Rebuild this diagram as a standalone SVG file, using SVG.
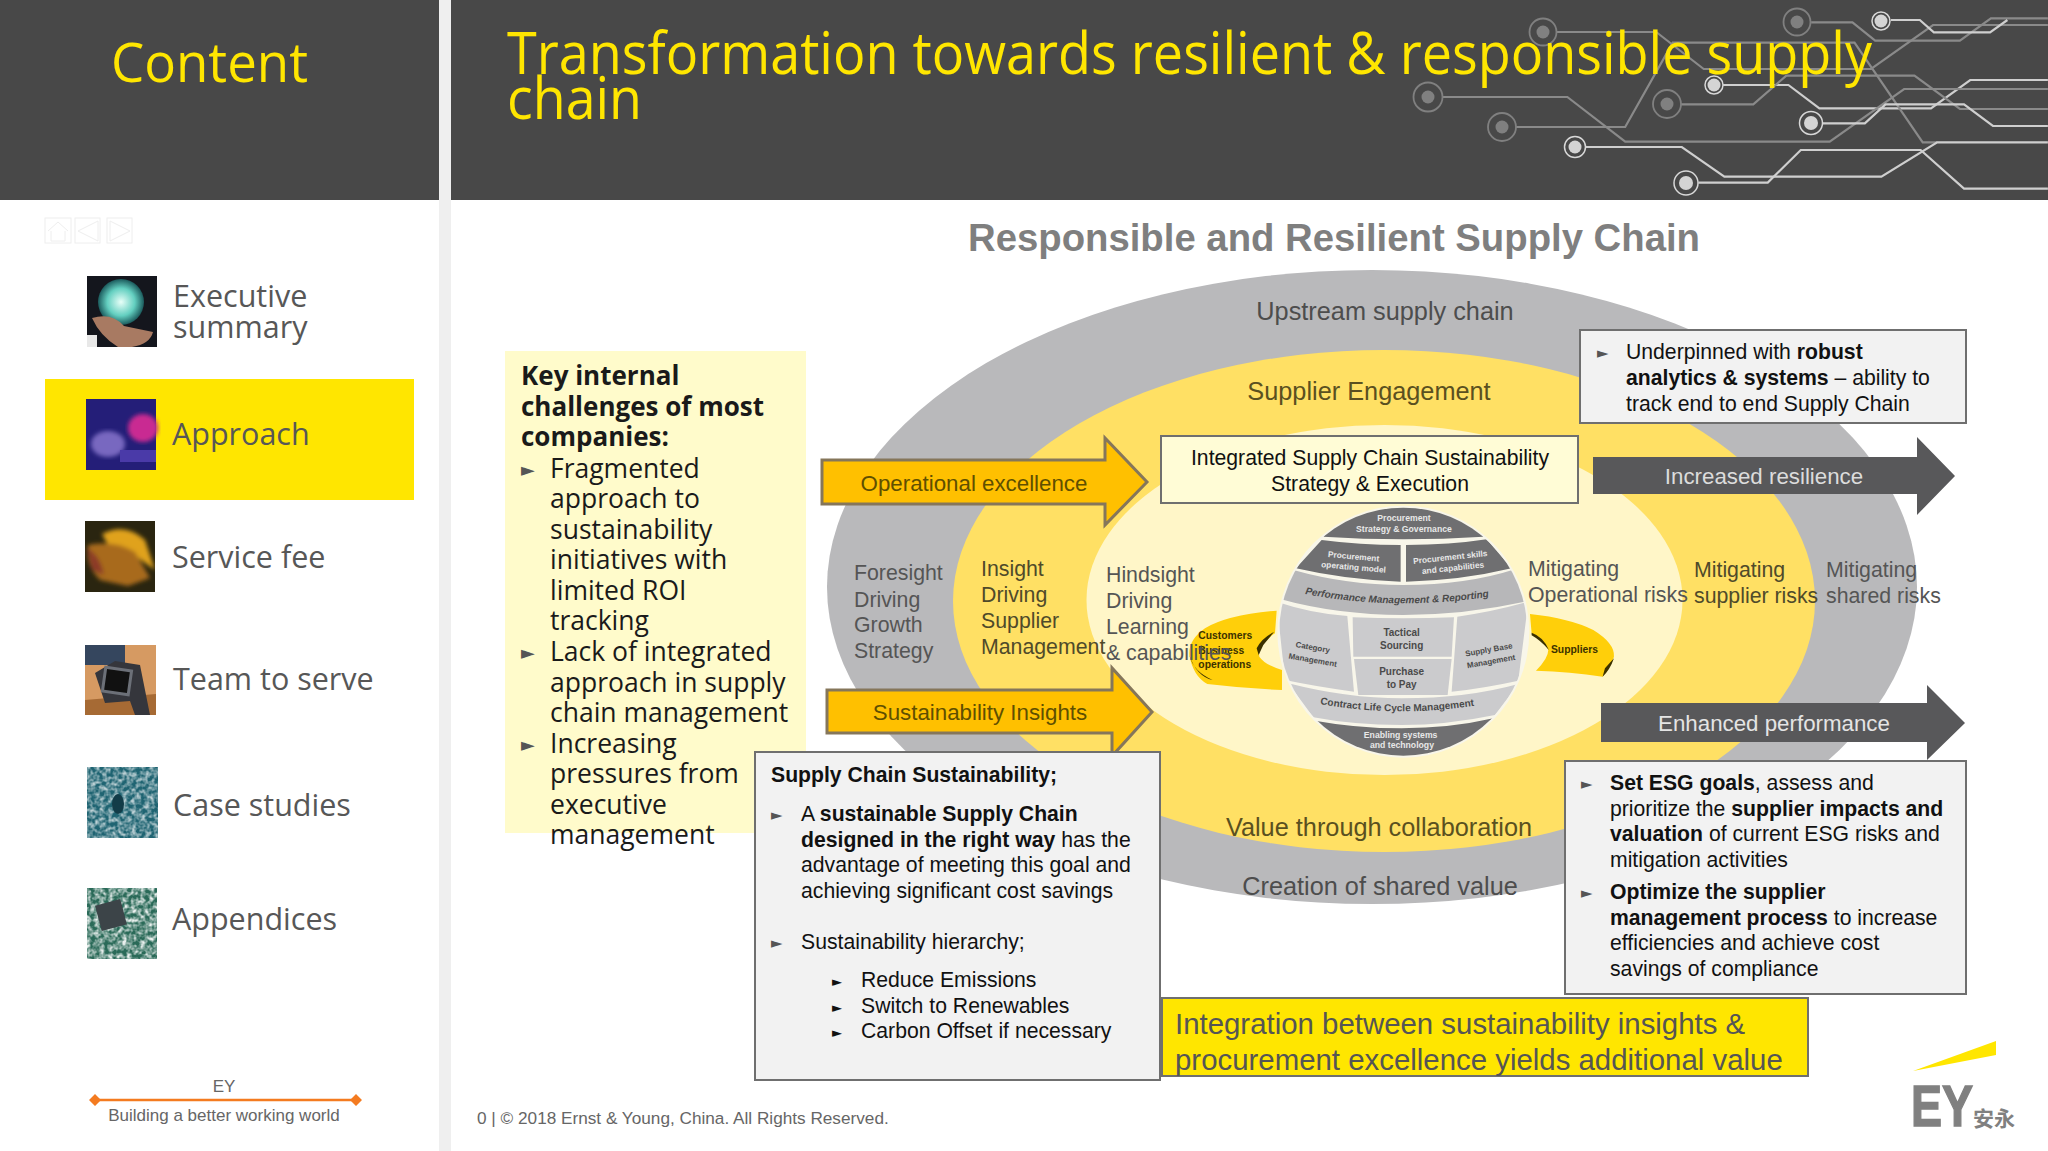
<svg xmlns="http://www.w3.org/2000/svg" width="2048" height="1151" viewBox="0 0 2048 1151">
<style>
text{font-family:"Liberation Sans",Arial,sans-serif}
.seg{font-family:"Open Sans","Noto Sans",sans-serif}
.menu{font-size:30.5px;fill:#575757}
.ttl{font-size:58px;fill:#FFE600}
.box{stroke:#6f6f6f;stroke-width:2}
.b{font-size:21.2px;fill:#111}
.bul{font-size:15px;fill:#555;font-family:"DejaVu Sans",sans-serif}
.bulk{font-size:13px;fill:#111;font-family:"DejaVu Sans",sans-serif}
.lbl{font-size:25.3px;fill:#4d4d4d}
.mid{font-size:21.3px;fill:#555}
.key{font-size:26.5px;fill:#1a1a1a}
.keybul{font-size:18px;fill:#555;font-family:"DejaVu Sans",sans-serif}
.c1{fill:none;stroke:#8a8a8a;stroke-width:2.2;vector-effect:non-scaling-stroke}
.c3{fill:none;stroke:#cfcfcf;stroke-width:2.2;vector-effect:non-scaling-stroke}
.dk{fill:#6f6f71}.md{fill:#b7b7b9}.lt{fill:#cbcbcd}
.gw{font-size:26px;fill:#e8e8e8;font-weight:bold;text-anchor:middle}
.gd{font-size:30px;fill:#4a4a4a;font-weight:bold;text-anchor:middle}
.sw{font-size:31px;font-weight:bold;fill:#3c3200}
.arrY{fill:#FFC000;stroke:#85765a;stroke-width:3}
.arrG{fill:#58585a}
.al{font-size:22.3px;text-anchor:middle}
</style>
<defs>
<filter id="noise" x="0" y="0" width="100%" height="100%"><feTurbulence type="fractalNoise" baseFrequency="0.22" numOctaves="2" seed="4"/><feColorMatrix values="0 0 0 0 1 0 0 0 0 1 0 0 0 0 1 2.2 0 0 0 -0.75"/></filter>
<filter id="soft"><feGaussianBlur stdDeviation="2"/></filter>
<clipPath id="globe"><circle cx="760" cy="455" r="372"/></clipPath>
<clipPath id="feeClip"><rect x="85" y="521" width="70" height="71"/></clipPath>
<radialGradient id="orb"><stop offset="0" stop-color="#e8fff8"/><stop offset=".6" stop-color="#63cfc0"/><stop offset="1" stop-color="#1b5a5c"/></radialGradient>
<path id="perfCurve" d="M465 342Q760 398 1065 342"/>
<path id="contractCurve" d="M510 672Q755 716 1005 672"/>
</defs>
<rect width="2048" height="1151" fill="#fff"/>

<g id="header">
<rect x="0" y="0" width="439" height="200" fill="#484848"/>
<rect x="439" y="0" width="12" height="1151" fill="#efefef"/>
<rect x="451" y="0" width="1597" height="200" fill="#484848"/>
<g id="circuit">
<g transform="translate(1400 0) scale(.4132 .3333)">
<path class="c1" d="M380 96H620L735 207H1140L1290 75H1568"/>
<path class="c1" d="M995 67H1095L1150 122H1355L1430 55H1568"/>
<path class="c3" d="M1188 60H1258L1292 97H1428L1470 60"/>
<path class="c3" d="M782 255H940L1015 325H1285L1380 240H1568"/>
<path class="c1" d="M680 313H855L935 227H1245L1355 327H1568"/>
<path class="c1" d="M103 291H405L545 425H1040L1220 267H1568"/>
<path class="c1" d="M280 381H545L660 128H1100L1265 427H1300"/>
<path class="c3" d="M450 441H682L785 530H1165L1300 427H1568"/>
<path class="c3" d="M722 548H890L970 450H1260L1365 566H1568"/>
<path class="c3" d="M1023 370H1125L1175 313H1365L1435 378H1568"/>
</g>
<g fill="#808080"><circle cx="1543" cy="32" r="6.5"/><circle cx="1797" cy="22" r="6.5"/><circle cx="1667" cy="104" r="6.5"/><circle cx="1428" cy="97" r="6.5"/><circle cx="1502" cy="127" r="6.5"/></g>
<g fill="none" stroke="#808080" stroke-width="1.8"><circle cx="1543" cy="32" r="13.5"/><circle cx="1797" cy="22" r="13.5"/><circle cx="1667" cy="104" r="14"/><circle cx="1428" cy="97" r="14.5"/><circle cx="1502" cy="127" r="14"/></g>
<g fill="#d4d4d4"><circle cx="1881" cy="21" r="6.5"/><circle cx="1714" cy="85" r="6.5"/><circle cx="1575" cy="147" r="6.5"/><circle cx="1686" cy="183" r="7"/><circle cx="1811" cy="123" r="7"/></g>
<g fill="none" stroke="#d8d8d8" stroke-width="1.5"><circle cx="1881" cy="21" r="9"/><circle cx="1714" cy="85" r="9"/><circle cx="1575" cy="147" r="10.5"/><circle cx="1686" cy="183" r="12"/><circle cx="1811" cy="123" r="11.5"/></g>
</g>
<text class="seg ttl" x="111" y="82" style="font-size:54px" textLength="197" lengthAdjust="spacingAndGlyphs">Content</text>
<text class="seg ttl" x="507" y="74" textLength="1365" lengthAdjust="spacingAndGlyphs">Transformation towards resilient &amp; responsible supply</text>
<text class="seg ttl" x="507" y="119" textLength="135" lengthAdjust="spacingAndGlyphs">chain</text>
</g>

<g id="sidebar">
<g id="nav" fill="none" stroke="#eeeeee" stroke-width="1">
<rect x="45" y="218" width="26" height="25"/><path d="M48 231L58 222L68 231M51 231V241H65V231"/>
<rect x="75" y="218" width="25" height="25"/><path d="M98 221L78 231L98 241Z"/>
<rect x="107" y="218" width="25" height="25"/><path d="M110 221L130 231L110 241Z"/>
</g>
<g id="menu-executive">
<rect x="87" y="276" width="70" height="71" fill="#14161d"/>
<rect x="87" y="335" width="10" height="12" fill="#e8e8e8"/>
<circle cx="121" cy="302" r="23" fill="url(#orb)"/>
<path d="M92 318Q112 312 124 326L153 332Q150 344 132 347H118Q100 336 92 318Z" fill="#a87a62"/>
<text class="seg menu" x="173" y="307">Executive</text>
<text class="seg menu" x="173" y="338">summary</text>
</g>
<g id="menu-approach">
<rect x="45" y="379" width="369" height="121" fill="#FFE600"/>
<rect x="86" y="399" width="70" height="71" fill="#241e78"/>
<ellipse cx="143" cy="428" rx="15" ry="14" fill="#c92a92" filter="url(#soft)"/>
<ellipse cx="108" cy="444" rx="17" ry="13" fill="#7868c0" filter="url(#soft)"/>
<rect x="120" y="450" width="36" height="12" fill="#4a3aa8"/>
<text class="seg menu" x="172" y="445">Approach</text>
</g>
<g id="menu-fee">
<rect x="85" y="521" width="70" height="71" fill="#2a2510"/>
<g clip-path="url(#feeClip)" filter="url(#soft)">
<path d="M102 534Q125 522 145 540L155 570L130 552L108 545Z" fill="#e0a21c"/>
<path d="M88 545Q115 540 135 552L150 578L128 586L100 580Q85 565 88 545Z" fill="#a86a1e"/>
<path d="M87 548Q100 555 104 575L92 570Z" fill="#8c3a26"/>
</g>
<text class="seg menu" x="172" y="568">Service fee</text>
</g>
<g id="menu-team">
<rect x="85" y="645" width="71" height="70" fill="#d69a62"/>
<rect x="85" y="645" width="40" height="20" fill="#35465e"/>
<path d="M85 700L156 694V715H85Z" fill="#a66a34"/>
<path d="M115 661L140 665L150 715H135L130 701L105 703L95 673Z" fill="#35363c"/>
<rect x="104" y="669" width="26" height="24" fill="#111" stroke="#6c7078" stroke-width="3" transform="rotate(8 117 681)"/>
<text class="seg menu" x="173" y="690">Team to serve</text>
</g>
<g id="menu-case">
<rect x="87" y="767" width="71" height="71" fill="#1f6472"/>
<rect x="87" y="767" width="71" height="71" filter="url(#noise)" opacity=".7"/>
<ellipse cx="118" cy="804" rx="6" ry="10" fill="#123c48"/>
<text class="seg menu" x="173" y="816">Case studies</text>
</g>
<g id="menu-appendices">
<rect x="87" y="888" width="70" height="71" fill="#2a6a58"/>
<rect x="87" y="888" width="70" height="71" filter="url(#noise)" opacity=".9"/>
<rect x="98" y="902" width="26" height="26" fill="#3c4448" transform="rotate(-15 111 915)"/>
<text class="seg menu" x="172" y="930">Appendices</text>
</g>
<g id="tagline">
<text x="224" y="1092" font-size="17" fill="#666" text-anchor="middle">EY</text>
<path d="M95 1100H356" stroke="#F47B20" stroke-width="2.5"/>
<path d="M95 1094l6 6l-6 6l-6-6ZM356 1094l6 6l-6 6l-6-6Z" fill="#F47B20"/>
<text x="224" y="1121" font-size="17" fill="#666" text-anchor="middle">Building a better working world</text>
</g>
</g>

<text id="diagram-title" x="1334" y="251" font-size="38.3" font-weight="bold" fill="#7f7f7f" text-anchor="middle">Responsible and Resilient Supply Chain</text>

<g id="rings">
<ellipse cx="1372" cy="587" rx="545" ry="317" fill="#B9B9BB"/>
<ellipse cx="1384" cy="601" rx="431" ry="251" fill="#FFE064"/>
<ellipse cx="1384.5" cy="600" rx="298" ry="175" fill="#FFF6C8"/>
<text class="lbl" x="1385" y="320" text-anchor="middle">Upstream supply chain</text>
<text class="lbl" x="1369" y="400" text-anchor="middle" style="fill:#5a5020">Supplier Engagement</text>
<text class="lbl" x="1379" y="836" text-anchor="middle" style="fill:#5a5020">Value through collaboration</text>
<text class="lbl" x="1380" y="895" text-anchor="middle">Creation of shared value</text>
</g>

<g id="globe-diagram" transform="translate(1150 480) scale(.3333)">
<g id="swooshes">
<path d="M380 392Q230 405 165 445Q115 480 118 525Q130 590 172 612Q280 625 396 630L396 570Q345 555 328 530Q322 495 375 460Z" fill="#FFCF0A"/>
<path d="M118 525Q130 575 188 600Q140 590 118 525ZM320 505Q335 475 372 456L340 495L326 525Z" fill="#3a3000"/>
<path d="M1140 402Q1260 415 1330 450Q1395 490 1392 530Q1380 565 1358 590Q1260 575 1158 572Q1195 535 1195 510Q1175 470 1145 460Z" fill="#FFCF0A"/>
<path d="M1145 458Q1180 470 1197 510Q1170 480 1145 466ZM1392 535Q1380 570 1358 590L1365 565Z" fill="#3a3000"/>
<text class="sw" x="145" y="476">Customers</text>
<text class="sw" x="145" y="521">Business</text>
<text class="sw" x="145" y="565">operations</text>
<text class="sw" x="1203" y="520">Suppliers</text>
</g>
<circle cx="760" cy="455" r="378" fill="#f8f6ea"/>
<g clip-path="url(#globe)">
<path class="dk" d="M520 170Q760 185 1000 170L900 50H620Z"/>
<path class="dk" d="M515 180Q630 195 752 195V305Q590 300 438 265Z"/>
<path class="dk" d="M768 195Q900 195 1010 178L1085 265Q930 302 768 305Z"/>
<path class="md" d="M430 270Q590 315 760 315Q950 315 1095 268L1140 362Q950 405 760 405Q560 405 385 356Z"/>
<path class="lt" d="M380 365Q480 400 592 408L612 635Q500 620 405 600Z"/>
<path class="lt" d="M608 412Q760 418 912 412L905 530H610Z"/>
<path class="lt" d="M612 537H905L893 645H625Z"/>
<path class="lt" d="M922 410Q1030 395 1135 365L1105 602Q1000 625 905 635Z"/>
<path class="lt" d="M415 610Q590 655 755 655Q950 655 1105 612L1035 705Q890 735 755 735Q610 735 490 712Z"/>
<path class="dk" d="M495 722Q620 745 755 745Q900 745 1030 715L960 840H560Z"/>
</g>
<text class="gw" x="762" y="124">Procurement</text>
<text class="gw" x="762" y="157">Strategy &amp; Governance</text>
<text class="gw" style="font-size:25px" x="610" y="238" transform="rotate(5 610 238)">Procurement</text>
<text class="gw" style="font-size:25px" x="610" y="270" transform="rotate(5 610 270)">operating model</text>
<text class="gw" style="font-size:25px" x="902" y="240" transform="rotate(-6 902 240)">Procurement skills</text>
<text class="gw" style="font-size:25px" x="910" y="272" transform="rotate(-6 910 272)">and capabilities</text>
<text class="gd" style="text-anchor:start"><textPath href="#perfCurve" font-style="italic">Performance Management &amp; Reporting</textPath></text>
<text class="gd" style="font-size:24px" x="487" y="510" transform="rotate(10 487 510)">Category</text>
<text class="gd" style="font-size:24px" x="487" y="548" transform="rotate(10 487 548)">Management</text>
<text class="gd" x="755" y="467">Tactical</text>
<text class="gd" x="755" y="506">Sourcing</text>
<text class="gd" x="755" y="585">Purchase</text>
<text class="gd" x="755" y="623">to Pay</text>
<text class="gd" style="font-size:24px" x="1018" y="517" transform="rotate(-10 1018 517)">Supply Base</text>
<text class="gd" style="font-size:24px" x="1025" y="552" transform="rotate(-10 1025 552)">Management</text>
<text class="gd" style="text-anchor:start"><textPath href="#contractCurve">Contract Life Cycle Management</textPath></text>
<text class="gw" x="752" y="773">Enabling systems</text>
<text class="gw" x="756" y="805">and technology</text>
</g>

<g id="ring-labels">
<text class="mid"><tspan x="854" y="580">Foresight</tspan><tspan x="854" y="607">Driving</tspan><tspan x="854" y="632">Growth</tspan><tspan x="854" y="658">Strategy</tspan></text>
<text class="mid" style="fill:#4f4a2a"><tspan x="981" y="576">Insight</tspan><tspan x="981" y="602">Driving</tspan><tspan x="981" y="628">Supplier</tspan><tspan x="981" y="654">Management</tspan></text>
<text class="mid"><tspan x="1106" y="582">Hindsight</tspan><tspan x="1106" y="608">Driving</tspan><tspan x="1106" y="634">Learning</tspan><tspan x="1106" y="660">&amp; capabilities</tspan></text>
<text class="mid"><tspan x="1528" y="576">Mitigating</tspan><tspan x="1528" y="602">Operational risks</tspan></text>
<text class="mid" style="fill:#4f4a2a"><tspan x="1694" y="577">Mitigating</tspan><tspan x="1694" y="603">supplier risks</tspan></text>
<text class="mid"><tspan x="1826" y="577">Mitigating</tspan><tspan x="1826" y="603">shared risks</tspan></text>
</g>

<g id="connectors">
<g id="arrow-operational"><path class="arrY" d="M822 460H1105V438L1147 482L1105 525V504H822Z"/><text class="al" x="974" y="491" fill="#5f4f00">Operational excellence</text></g>
<g id="arrow-sustainability"><path class="arrY" d="M827 690H1112V668L1152 712L1112 756V733H827Z"/><text class="al" x="980" y="720" fill="#5f4f00">Sustainability Insights</text></g>
<g id="arrow-resilience"><path class="arrG" d="M1593 457H1917V437L1955 476L1917 515V494H1593Z"/><text class="al" x="1764" y="484" fill="#dcdcdc">Increased resilience</text></g>
<g id="arrow-performance"><path class="arrG" d="M1601 703H1927V685L1965 723L1927 760V742H1601Z"/><text class="al" x="1774" y="731" fill="#e4e4e4">Enhanced performance</text></g>
</g>

<g id="key-challenges">
<rect x="505" y="351" width="301" height="482" fill="#FFFBCB"/>
<text class="seg key" font-weight="bold" style="font-size:26px"><tspan x="521" y="385">Key internal</tspan><tspan x="521" y="416">challenges of most</tspan><tspan x="521" y="446">companies:</tspan></text>
<text class="keybul"><tspan x="521" y="476">►</tspan><tspan x="521" y="659">►</tspan><tspan x="521" y="751">►</tspan></text>
<text class="seg key"><tspan x="550" y="478">Fragmented</tspan><tspan x="550" y="508">approach to</tspan><tspan x="550" y="539">sustainability</tspan><tspan x="550" y="569">initiatives with</tspan><tspan x="550" y="600">limited ROI</tspan><tspan x="550" y="630">tracking</tspan><tspan x="550" y="661">Lack of integrated</tspan><tspan x="550" y="692">approach in supply</tspan><tspan x="550" y="722">chain management</tspan><tspan x="550" y="753">Increasing</tspan><tspan x="550" y="783">pressures from</tspan><tspan x="550" y="814">executive</tspan><tspan x="550" y="844">management</tspan></text>
</g>

<g id="integrated-box">
<rect class="box" x="1161" y="436" width="417" height="67" fill="#FFFCD6"/>
<text class="b" text-anchor="middle"><tspan x="1370" y="465">Integrated Supply Chain Sustainability</tspan><tspan x="1370" y="491">Strategy &amp; Execution</tspan></text>
</g>

<g id="analytics-box">
<rect class="box" x="1580" y="330" width="386" height="93" fill="#F2F2F2"/>
<text class="bul" x="1597" y="358">►</text>
<text class="b"><tspan x="1626" y="359">Underpinned with </tspan><tspan font-weight="bold">robust</tspan><tspan x="1626" y="385" font-weight="bold">analytics &amp; systems</tspan><tspan> – ability to</tspan><tspan x="1626" y="411">track end to end Supply Chain</tspan></text>
</g>

<g id="supply-box">
<rect class="box" x="755" y="752" width="405" height="328" fill="#F2F2F2"/>
<text class="b" x="771" y="782" font-weight="bold">Supply Chain Sustainability;</text>
<text class="bul"><tspan x="771" y="820">►</tspan><tspan x="771" y="948">►</tspan></text>
<text class="b"><tspan x="801" y="821">A </tspan><tspan font-weight="bold">sustainable Supply Chain</tspan><tspan x="801" y="847" font-weight="bold">designed in the right way</tspan><tspan> has the</tspan><tspan x="801" y="872">advantage of meeting this goal and</tspan><tspan x="801" y="898">achieving significant cost savings</tspan><tspan x="801" y="949">Sustainability hierarchy;</tspan></text>
<text class="bulk"><tspan x="832" y="986">►</tspan><tspan x="832" y="1012">►</tspan><tspan x="832" y="1037">►</tspan></text>
<text class="b"><tspan x="861" y="987">Reduce Emissions</tspan><tspan x="861" y="1013">Switch to Renewables</tspan><tspan x="861" y="1038">Carbon Offset if necessary</tspan></text>
</g>

<g id="esg-box">
<rect class="box" x="1565" y="761" width="401" height="233" fill="#F2F2F2"/>
<text class="bul"><tspan x="1581" y="789">►</tspan><tspan x="1581" y="898">►</tspan></text>
<text class="b"><tspan x="1610" y="790" font-weight="bold">Set ESG goals</tspan><tspan>, assess and</tspan><tspan x="1610" y="816">prioritize the </tspan><tspan font-weight="bold">supplier impacts and</tspan><tspan x="1610" y="841" font-weight="bold">valuation</tspan><tspan> of current ESG risks and</tspan><tspan x="1610" y="867">mitigation activities</tspan><tspan x="1610" y="899" font-weight="bold">Optimize the supplier</tspan><tspan x="1610" y="925" font-weight="bold">management process</tspan><tspan> to increase</tspan><tspan x="1610" y="950">efficiencies and achieve cost</tspan><tspan x="1610" y="976">savings of compliance</tspan></text>
</g>

<g id="integration-box">
<rect class="box" x="1162" y="998" width="646" height="78" fill="#FFE600"/>
<text font-size="29.4" fill="#555"><tspan x="1175" y="1034">Integration between sustainability insights &amp;</tspan><tspan x="1175" y="1070">procurement excellence yields additional value</tspan></text>
</g>

<text id="footer" x="477" y="1124" font-size="17.2" fill="#666">0 | © 2018 Ernst &amp; Young, China. All Rights Reserved.</text>

<g id="logo">
<path d="M1913 1071L1996 1041V1055Z" fill="#FFE600"/>
<text x="1911" y="1126" font-size="58" font-weight="bold" fill="#808080" stroke="#808080" stroke-width="1.5" textLength="62" lengthAdjust="spacingAndGlyphs">EY</text>
<text x="1973" y="1126" font-size="21" font-weight="bold" fill="#808080" style="font-family:'Noto Sans CJK SC',sans-serif">安永</text>
</g>
</svg>
